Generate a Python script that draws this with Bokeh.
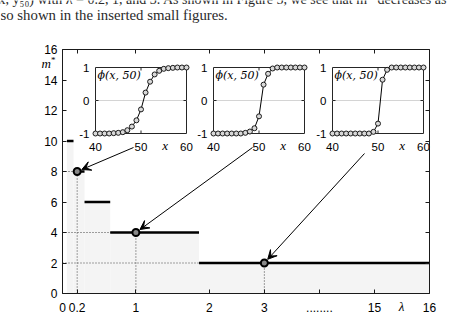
import numpy as np
from bokeh.plotting import figure
from bokeh.models import Range1d, FixedTicker, LinearAxis, Arrow, VeeHead
from bokeh.core.properties import value
from bokeh.embed import file_html
from bokeh.resources import INLINE

# ---------------- data ----------------
STEP_LAM_START = [0.06, 0.15, 0.30, 0.65, 1.86]
STEP_LAM_END = [0.15, 0.30, 0.65, 1.86, 16.0]
STEP_M = [10, 8, 6, 4, 2]

SEL_LAM = [0.2, 1, 3]
SEL_M = [8, 4, 2]

X_TICK_LAM = [0, 0.2, 1, 2, 3, 9, 15, 16]
X_TICK_LABELS = ["0", "0.2", "1", "2", "3", "........", "15", "16"]
Y_TICKS = [0, 2, 4, 6, 8, 10, 12, 14, 16]

PHI_X = [40, 41, 42, 43, 44, 45, 46, 47, 48, 49, 50,
         51, 52, 53, 54, 55, 56, 57, 58, 59, 60]
PHI_LAM02 = [-1, -1, -1, -1, -0.99, -0.98, -0.96, -0.90, -0.79, -0.60, -0.27,
             0.24, 0.57, 0.79, 0.90, 0.96, 0.98, 0.99, 1, 1, 1]
PHI_LAM1 = [-1, -1, -1, -1, -1, -1, -1, -0.98, -0.94, -0.84, -0.48,
            0.48, 0.81, 0.97, 1, 1, 1, 1, 1, 1, 1]
PHI_LAM3 = [-1, -1, -1, -1, -1, -1, -1, -1, -1, -0.95, -0.70,
            0.63, 0.93, 1, 1, 1, 1, 1, 1, 1, 1]
INSET_PROFILES = [PHI_LAM02, PHI_LAM1, PHI_LAM3]
INSET_X_TICKS = [40, 50, 60]
INSET_Y_TICKS = [-1, 0, 1]

TEXT_LINE1 = "x, y\u2085\u2080) with \u03bb = 0.2, 1, and 3. As shown in Figure 5, we see that m* decreases as"
TEXT_LINE2 = "so shown in the inserted small figures."

# ---------------- layout helpers ----------------
W, H = 474, 321
BOX_L, BOX_R, BOX_T, BOX_B = 62, 429, 49, 293
U0, U1, Y0, Y1 = 0.0, 5.0, 0.0, 16.0
LAM_KNOTS = [0, 1, 2, 3, 15, 16]
U_KNOTS = [0, 1, 2, 2.75, 4.25, 5.0]

KU = (U1 - U0) / (BOX_R - BOX_L)
KM = (Y1 - Y0) / (BOX_B - BOX_T)


def lam_u(lam):
    return np.interp(np.asarray(lam, dtype=float), LAM_KNOTS, U_KNOTS)


def px_u(px):
    return U0 + (px - BOX_L) * KU


def py_m(py):
    return Y0 + (BOX_B - py) * KM


def u_px(u):
    return BOX_L + (u - U0) / KU


def m_py(m):
    return BOX_B - (m - Y0) / KM


p = figure(width=W, height=H,
           x_range=Range1d(px_u(0), px_u(W)), y_range=Range1d(py_m(H), py_m(0)),
           output_backend="svg", toolbar_location=None,
           x_axis_type=None, y_axis_type=None,
           min_border=0, min_border_left=0, min_border_right=0,
           min_border_top=0, min_border_bottom=0)
p.outline_line_color = None
p.background_fill_color = "white"
p.border_fill_color = "white"

x_ticks_u = [float(v) for v in lam_u(X_TICK_LAM)]
overrides = {t: lab for t, lab in zip(x_ticks_u, X_TICK_LABELS)}
AX_COL = "#1a1a1a"


def make_axis(ticker, loc, bounds, show_labels, over=None):
    ax = LinearAxis(ticker=ticker, fixed_location=loc, bounds=bounds,
                    major_tick_in=4, major_tick_out=0,
                    minor_tick_line_color=None,
                    axis_line_color=AX_COL, major_tick_line_color=AX_COL,
                    major_label_text_font="Liberation Sans",
                    major_label_text_font_size="12px",
                    major_label_text_color="black" if show_labels else None,
                    major_label_standoff=6)
    if over is not None:
        ax.major_label_overrides = over
    return ax


bottom = make_axis(FixedTicker(ticks=x_ticks_u), Y0, (U0, U1), True, overrides)
bottom.major_label_standoff = 9
top = make_axis(FixedTicker(ticks=x_ticks_u), Y1, (U0, U1), False)
left = make_axis(FixedTicker(ticks=Y_TICKS), U0, (Y0, Y1), True)
left.major_label_standoff = 5
right = make_axis(FixedTicker(ticks=Y_TICKS), U1, (Y0, Y1), False)
p.add_layout(bottom, "below")
p.add_layout(top, "above")
p.add_layout(left, "left")
p.add_layout(right, "right")

us = lam_u(STEP_LAM_START)
ue = lam_u(STEP_LAM_END)
p.quad(left=us, right=ue, bottom=0, top=STEP_M, fill_color="#f4f4f4", line_color=None)

su = lam_u(SEL_LAM)
p.segment(x0=su, y0=[0] * len(su), x1=su, y1=SEL_M, line_color="#444444",
          line_width=1, line_dash="1 2")
p.segment(x0=[0] * len(su), y0=SEL_M, x1=su, y1=SEL_M, line_color="#444444",
          line_width=1, line_dash="1 2")

p.segment(x0=us, y0=STEP_M, x1=ue, y1=STEP_M, line_color="black", line_width=2.6)

p.scatter(su, SEL_M, size=7, line_color="black", line_width=2, fill_color="#888888")

# ---------------- insets ----------------
INSET_LEFT_PX = [95, 213, 332]
INSET_W_PX = 91
INSET_TOP_PX, INSET_BOT_PX = 67, 133
ky = 2.0 / (INSET_BOT_PX - INSET_TOP_PX)
p.extra_y_ranges["iy"] = Range1d(-1 - (H - INSET_BOT_PX) * ky,
                                 -1 + INSET_BOT_PX * ky)

arrow_start_px = [(133, 147), (252, 147), (364, 153)]

for i, (L, prof) in enumerate(zip(INSET_LEFT_PX, INSET_PROFILES)):
    kx = 20.0 / INSET_W_PX
    name = "ix%d" % i
    p.extra_x_ranges[name] = Range1d(40 - L * kx, 40 + (W - L) * kx)
    kw = dict(x_range_name=name, y_range_name="iy")
    p.quad(left=40, right=60, bottom=-1, top=1, fill_color="white",
           line_color="#262626", line_width=1, **kw)
    p.segment(x0=40, y0=0, x1=60, y1=0, line_color="#d4d4d4", line_width=1, **kw)
    tx, ty = 3 * kx, 3 * ky
    p.segment(x0=[50, 50, 40, 60], y0=[-1, 1, 0, 0],
              x1=[50, 50, 40 + tx, 60 - tx], y1=[-1 + ty, 1 - ty, 0, 0],
              line_color="#262626", line_width=1, **kw)
    p.line(PHI_X, prof, line_color="black", line_width=1, **kw)
    p.scatter(PHI_X, prof, size=5, line_color="#1a1a1a", line_width=1,
              fill_color="#d8d8d8", **kw)
    p.text(x=[40 - 6 * kx] * 3, y=INSET_Y_TICKS, text=[str(v) for v in INSET_Y_TICKS],
           text_font=value("Liberation Sans"), text_font_size="11.5px",
           text_align="right", text_baseline="middle", text_color="black", **kw)
    p.text(x=INSET_X_TICKS, y=[-1 - 13 * ky] * 3, text=[str(v) for v in INSET_X_TICKS],
           text_font=value("Liberation Sans"), text_font_size="11.5px",
           text_align="center", text_baseline="middle", text_color="black", **kw)
    p.text(x=[55.3], y=[-1 - 11.5 * ky], text=["x"],
           text_font=value("Liberation Serif"), text_font_style="italic",
           text_font_size="13px", text_align="center", text_baseline="middle",
           text_color="black", **kw)
    p.text(x=[40 + 2 * kx], y=[1 - 8 * ky], text=["\u03d5(x, 50)"],
           text_font=value("DejaVu Serif"), text_font_style="italic",
           text_font_size="11px", text_align="left", text_baseline="middle",
           text_color="black", **kw)

    sx, sy = arrow_start_px[i]
    ptx, pty = u_px(su[i]), m_py(SEL_M[i])
    dx, dy = sx - ptx, sy - pty
    dn = (dx * dx + dy * dy) ** 0.5
    ex, ey = ptx + 5 * dx / dn, pty + 5 * dy / dn
    p.add_layout(Arrow(end=VeeHead(size=9, fill_color="black", line_color="black",
                                   line_width=1),
                       x_start=px_u(sx), y_start=py_m(sy), x_end=px_u(ex), y_end=py_m(ey),
                       line_color="black", line_width=1))

# ---------------- texts outside the box ----------------
serif = value("Liberation Serif")
p.text(x=[px_u(41)], y=[py_m(63)], text=["m"], text_font=serif,
       text_font_style="italic", text_font_size="13px",
       text_baseline="middle", text_color="black")
p.text(x=[px_u(50.5)], y=[py_m(59.5)], text=["*"], text_font=serif,
       text_font_size="9px", text_baseline="middle", text_color="black")
p.text(x=[px_u(401)], y=[py_m(306)], text=["\u03bb"], text_font=serif,
       text_font_style="italic", text_font_size="13px", text_align="center",
       text_baseline="middle", text_color="black")
p.text(x=[px_u(-2)], y=[py_m(-1.3)], text=[TEXT_LINE1], text_font=serif,
       text_font_size="14px", text_baseline="middle", text_color="#2a2a2a")
p.text(x=[px_u(0)], y=[py_m(14.5)], text=[TEXT_LINE2], text_font=serif,
       text_font_size="14.8px", text_baseline="middle", text_color="#2a2a2a")

open("out.html", "w").write(file_html(p, INLINE))
